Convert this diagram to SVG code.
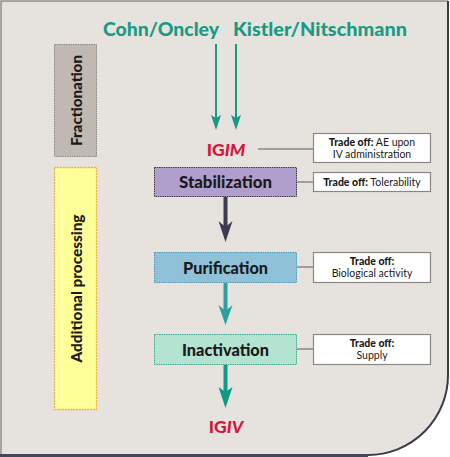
<svg xmlns="http://www.w3.org/2000/svg" width="450" height="457" viewBox="0 0 450 457">
<style>
.title{font-family:Lato,"Liberation Sans",sans-serif;font-weight:900;font-size:18.5px;fill:#1a9a85}
.red{font-family:Lato,"Liberation Sans",sans-serif;font-weight:900;font-size:17.5px;fill:#d4163c}
.step{font-family:Lato,"Liberation Sans",sans-serif;font-weight:900;font-size:16.5px;fill:#1a1a1a}
.side{font-family:Lato,"Liberation Sans",sans-serif;font-weight:900;font-size:15.5px;fill:#1a1a1a}
.to{font-family:Lato,"Liberation Sans",sans-serif;font-size:10.5px;fill:#1a1a1a}
.tob{font-weight:900}
.tobox{fill:#ffffff;stroke:#8a8784;stroke-width:1.2}
.conn{stroke:#8a8784;stroke-width:1.5;fill:none}
</style>
<path d="M1,1 H448 V375 A80,80 0 0 1 368,455 H1 Z" fill="#e6e3de" stroke="none"/>
<path d="M1,455 V1 H448" fill="none" stroke="#8c8a88" stroke-width="1.5"/>
<path d="M448,1 V375 A80,80 0 0 1 368,455 H0" fill="none" stroke="#3c3b4a" stroke-width="2"/>
<line x1="0" y1="455.5" x2="368" y2="455.5" stroke="#45445a" stroke-width="3"/>

<g id="title-cohn"><text class="title" x="103" y="36" textLength="116" lengthAdjust="spacingAndGlyphs">Cohn/Oncley</text></g>
<g id="title-kistler"><text class="title" x="233" y="36" textLength="174" lengthAdjust="spacingAndGlyphs">Kistler/Nitschmann</text></g>

<g id="fractionation">
<rect x="54.5" y="44.5" width="42" height="112" fill="#c0b8b2" stroke="#8c8682" stroke-width="1" stroke-dasharray="1.5 0.8"/>
<text class="side" transform="translate(81.5,100.5) rotate(-90)" text-anchor="middle" textLength="91" lengthAdjust="spacingAndGlyphs">Fractionation</text>
</g>
<g id="additional-processing">
<rect x="54.5" y="167.5" width="42" height="242" fill="#ffff99" stroke="#f0b040" stroke-width="1.3" stroke-dasharray="2 0.8"/>
<text class="side" transform="translate(81.5,288.5) rotate(-90)" text-anchor="middle" textLength="148" lengthAdjust="spacingAndGlyphs">Additional processing</text>
</g>

<g id="igim"><text class="red" x="226" y="156" text-anchor="middle">IG<tspan font-style="italic">IM</tspan></text></g>

<g id="stabilization">
<rect x="154.5" y="167.5" width="142" height="29" fill="#b09fcc" stroke="#333340" stroke-width="1" stroke-dasharray="1.5 0.8"/>
<text class="step" x="225.5" y="188" text-anchor="middle" textLength="93" lengthAdjust="spacingAndGlyphs">Stabilization</text>
</g>
<g id="purification">
<rect x="154.5" y="252.5" width="142" height="30" fill="#8fc2d8" stroke="#4a98b8" stroke-width="1" stroke-dasharray="1.5 0.8"/>
<text class="step" x="225.5" y="273.5" text-anchor="middle" textLength="85" lengthAdjust="spacingAndGlyphs">Purification</text>
</g>
<g id="inactivation">
<rect x="154.5" y="334.5" width="142" height="30" fill="#b3e3d1" stroke="#3aa890" stroke-width="1" stroke-dasharray="1.5 0.8"/>
<text class="step" x="225.5" y="355.5" text-anchor="middle" textLength="87" lengthAdjust="spacingAndGlyphs">Inactivation</text>
</g>

<g id="igiv"><text class="red" x="226" y="433" text-anchor="middle" font-size="18">IG<tspan font-style="italic">IV</tspan></text></g>

<g id="tradeoff-1">
<rect class="tobox" x="313.5" y="133.5" width="117" height="29"/>
<text class="to" x="372" y="146" text-anchor="middle"><tspan class="tob">Trade off:</tspan> AE upon</text>
<text class="to" x="372" y="157.5" text-anchor="middle">IV administration</text>
</g>
<g id="tradeoff-2">
<rect class="tobox" x="313.5" y="172.5" width="117" height="19"/>
<text class="to" x="372" y="186" text-anchor="middle"><tspan class="tob">Trade off:</tspan> Tolerability</text>
</g>
<g id="tradeoff-3">
<rect class="tobox" x="313.5" y="252.5" width="117" height="30"/>
<text class="to tob" x="372" y="265" text-anchor="middle">Trade off:</text>
<text class="to" x="372" y="276.5" text-anchor="middle">Biological activity</text>
</g>
<g id="tradeoff-4">
<rect class="tobox" x="313.5" y="334.5" width="117" height="30"/>
<text class="to tob" x="372" y="347" text-anchor="middle">Trade off:</text>
<text class="to" x="372" y="358.5" text-anchor="middle">Supply</text>
</g>

<g id="connectors">
<line x1="216" y1="44" x2="216" y2="120" stroke="#1a9a85" stroke-width="2"/>
<path d="M211,115 L216,130 L221,115 L216,118 Z" fill="#1a9a85"/>
<line x1="236" y1="44" x2="236" y2="120" stroke="#1a9a85" stroke-width="2"/>
<path d="M231,115 L236,130 L241,115 L236,118 Z" fill="#1a9a85"/>

<line class="conn" x1="258" y1="149" x2="313" y2="149"/>
<line class="conn" x1="297" y1="182" x2="313" y2="182"/>
<line class="conn" x1="297" y1="267" x2="313" y2="267"/>
<line class="conn" x1="297" y1="349" x2="313" y2="349"/>

<line x1="225.5" y1="197" x2="225.5" y2="228" stroke="#3d3b52" stroke-width="4"/>
<path d="M218.5,221 L225.5,242 L232.5,221 L225.5,227 Z" fill="#3d3b52"/>
<line x1="225.5" y1="283" x2="225.5" y2="311" stroke="#2aa0a0" stroke-width="4"/>
<path d="M218.5,305 L225.5,325 L232.5,305 L225.5,311 Z" fill="#2aa0a0"/>
<line x1="225.5" y1="365" x2="225.5" y2="393" stroke="#0f9a88" stroke-width="4"/>
<path d="M218.5,387 L225.5,408 L232.5,387 L225.5,392 Z" fill="#0f9a88"/>
</g>
</svg>
